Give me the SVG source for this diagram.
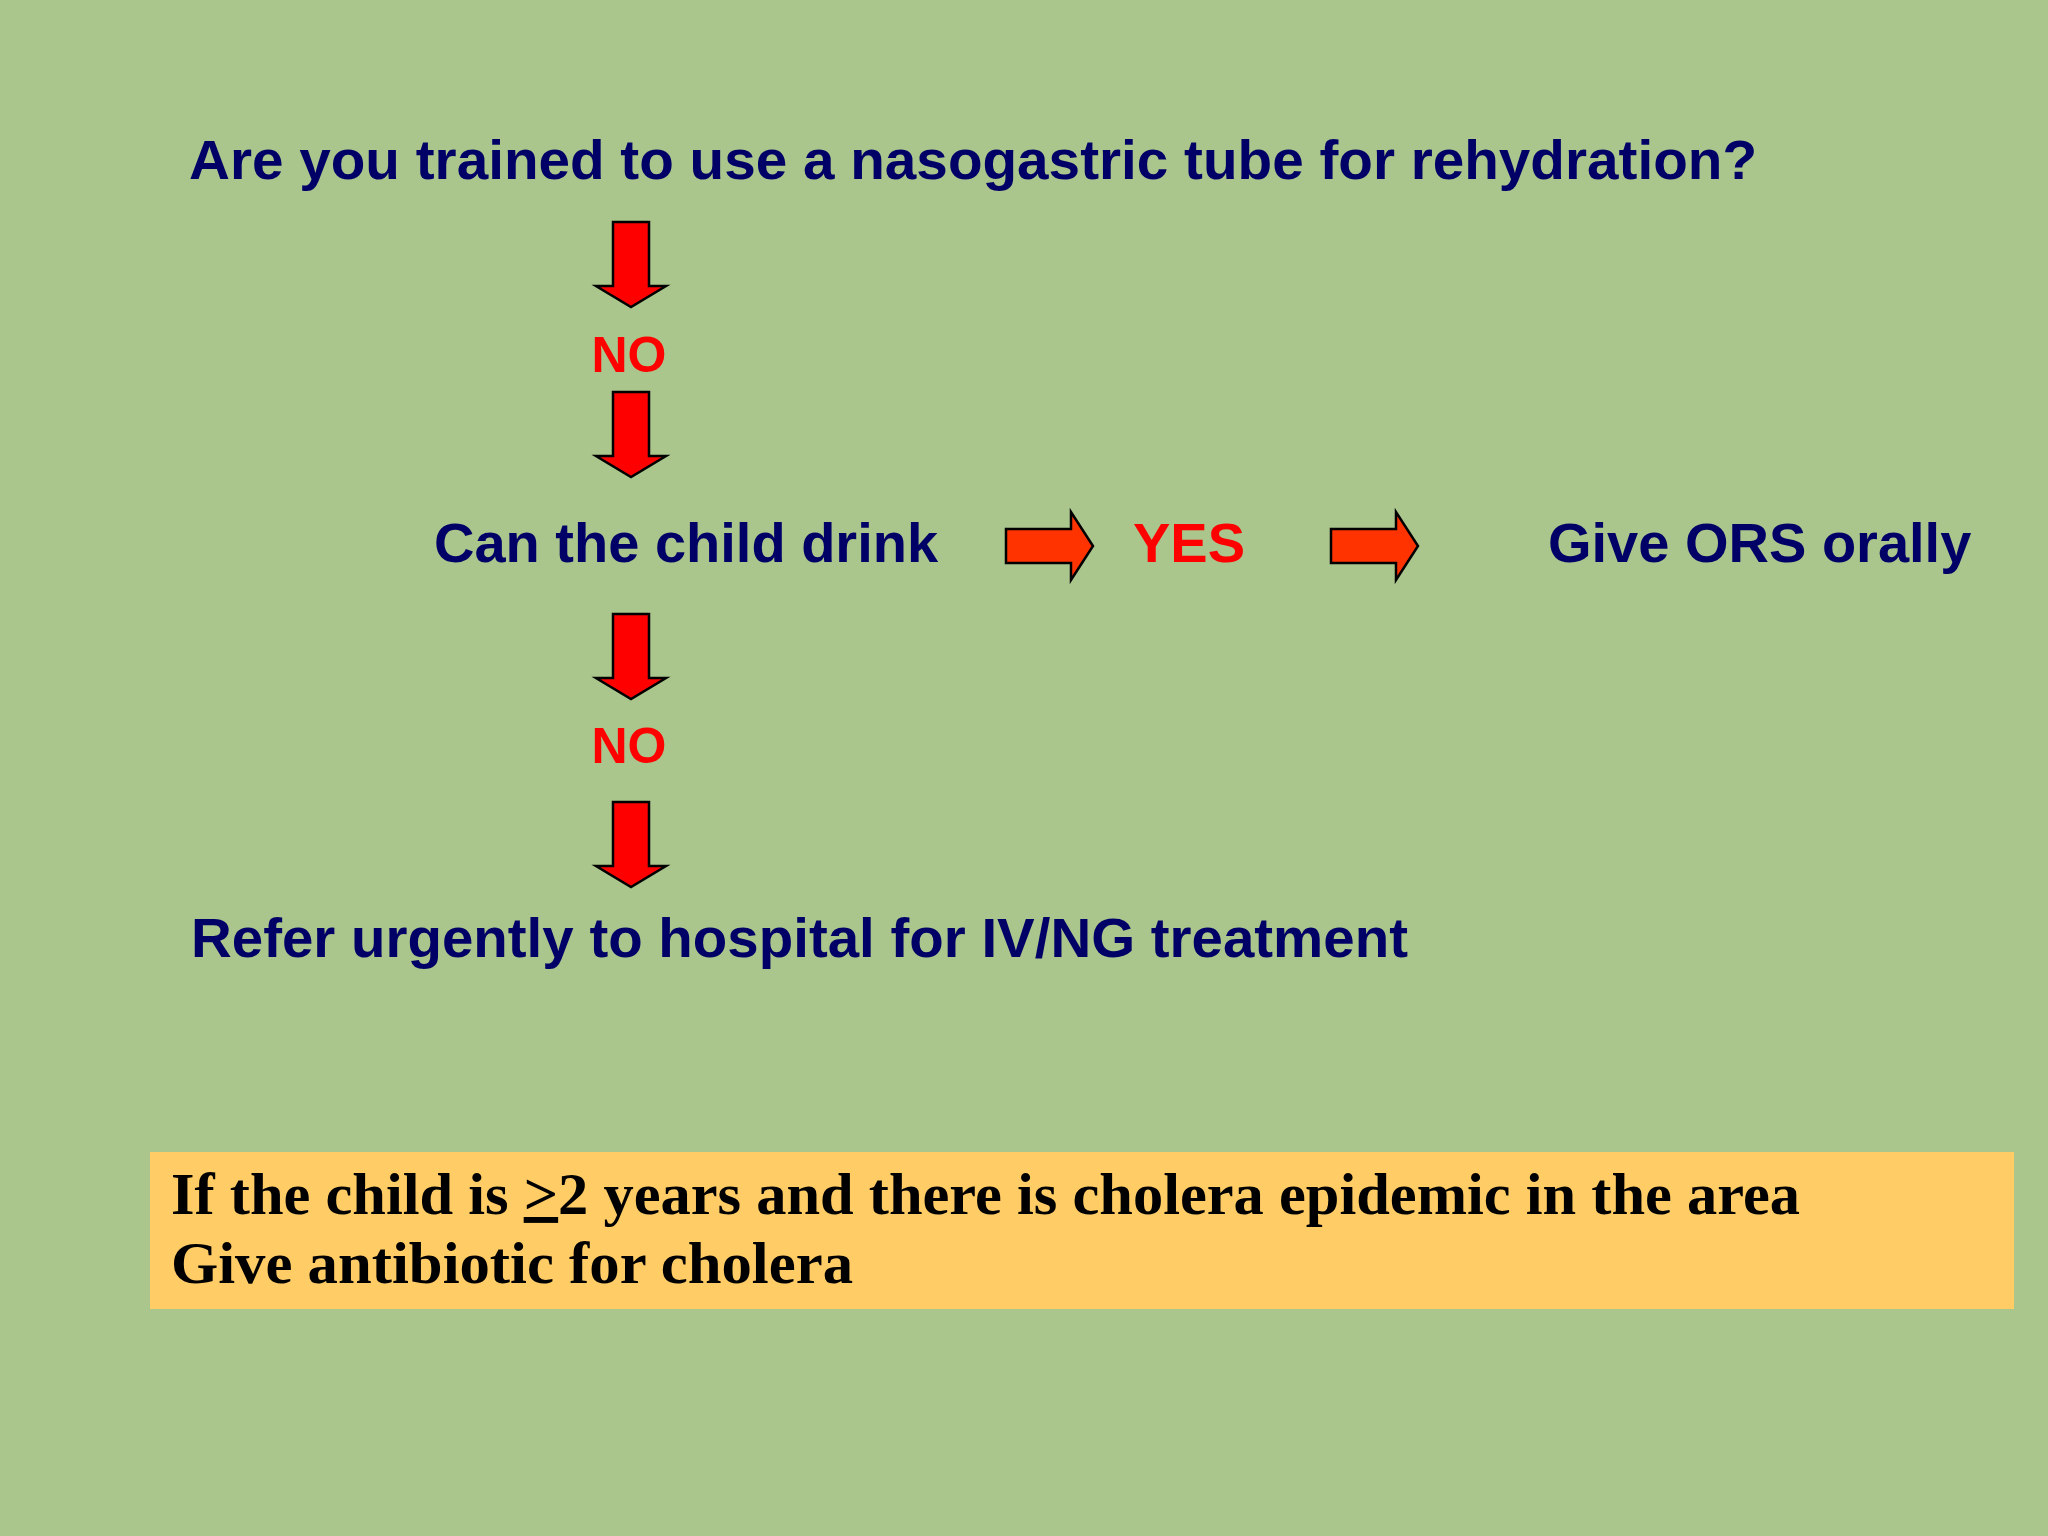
<svg xmlns="http://www.w3.org/2000/svg" width="2048" height="1536" viewBox="0 0 2048 1536">
<defs>
<style>
.q{font-family:"Liberation Sans",Arial,sans-serif;font-weight:bold;font-size:56px;fill:#000066}
.lab{font-family:"Liberation Sans",Arial,sans-serif;font-weight:bold;fill:#FF0000}
.note{font-family:"Liberation Serif","Times New Roman",serif;font-weight:bold;font-size:59px;fill:#000000}
.down{fill:#FF0000;stroke:#000000;stroke-width:2.5;stroke-linejoin:miter}
.right{fill:#FF3300;stroke:#000000;stroke-width:2.5;stroke-linejoin:miter}
</style>
<path id="dArrow" d="M-18,0 H18 V64 H35 L0,85 L-35,64 H-18 Z"/>
<path id="rArrow" d="M0,-17 H65 V-34 L87,0 L65,34 V17 H0 Z"/>
</defs>
<rect x="0" y="0" width="2048" height="1536" fill="#AAC68C"/>
<g id="connectors">
<use href="#dArrow" class="down" x="631" y="222"/>
<use href="#dArrow" class="down" x="631" y="392"/>
<use href="#dArrow" class="down" x="631" y="614"/>
<use href="#dArrow" class="down" x="631" y="802"/>
<use href="#rArrow" class="right" x="1006" y="546"/>
<use href="#rArrow" class="right" x="1331" y="546"/>
</g>
<g id="q1"><text class="q" x="189" y="179" textLength="1568" lengthAdjust="spacingAndGlyphs">Are you trained to use a nasogastric tube for rehydration?</text></g>
<g id="no1"><text class="lab" x="629" y="372" font-size="50" text-anchor="middle">NO</text></g>
<g id="q2"><text class="q" x="434" y="562">Can the child drink</text></g>
<g id="yes"><text class="lab" x="1189" y="562" font-size="56" text-anchor="middle">YES</text></g>
<g id="ors"><text class="q" x="1548" y="562">Give ORS orally</text></g>
<g id="no2"><text class="lab" x="629" y="763" font-size="50" text-anchor="middle">NO</text></g>
<g id="refer"><text class="q" x="191" y="957" textLength="1217" lengthAdjust="spacingAndGlyphs">Refer urgently to hospital for IV/NG treatment</text></g>
<g id="note">
<rect x="150" y="1152" width="1864" height="157" fill="#FFCC66"/>
<text class="note" x="171" y="1214" textLength="1629" lengthAdjust="spacingAndGlyphs">If the child is <tspan text-decoration="underline">&gt;</tspan>2 years and there is cholera epidemic in the area</text>
<text class="note" x="171" y="1283" textLength="682" lengthAdjust="spacingAndGlyphs">Give antibiotic for cholera</text>
</g>
</svg>
